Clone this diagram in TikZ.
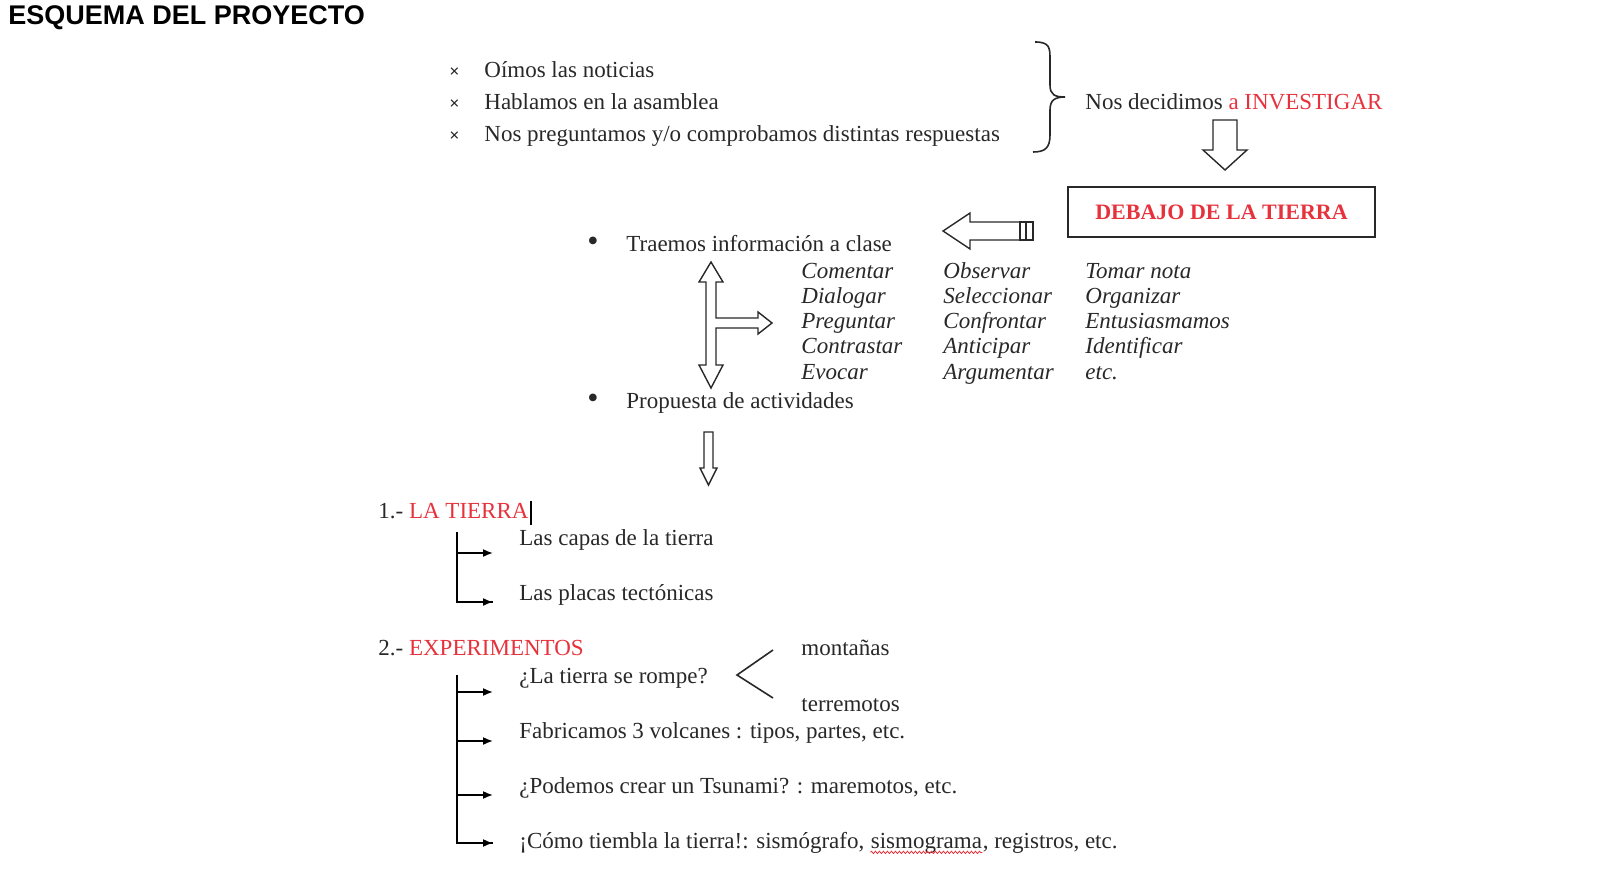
\documentclass[tikz,border=0pt]{standalone}
\usepackage{fontspec}
\setmainfont{Liberation Serif}
\setsansfont{Liberation Sans}
\usetikzlibrary{decorations.pathmorphing,arrows.meta}
\definecolor{rd}{RGB}{230,50,60}
\definecolor{tx}{RGB}{40,40,40}
\begin{document}
\begin{tikzpicture}[x=0.5pt,y=-0.5pt,
  t/.style={anchor=west,inner sep=0pt,text height=8pt,text depth=2.6pt,text=tx,font=\fontsize{11.5}{13}\selectfont},
  it/.style={t,font=\fontsize{11.5}{13}\selectfont\itshape},
  hol/.style={draw=tx,line width=0.7pt,fill=white},
  ln/.style={draw=black,line width=0.8pt},
  arr/.style={ln,-{Latex[length=5pt,width=4pt]}}]
\useasboundingbox (0,0) rectangle (1600,893);
\node[anchor=west,inner sep=0pt,font=\sffamily\bfseries\fontsize{13.5}{15}\selectfont] (title) at (8,18) {ESQUEMA DEL PROYECTO};
% top list
\foreach \y/\s/\n in {72/{Oímos las noticias}/a,104/{Hablamos en la asamblea}/b,136/{Nos preguntamos y/o comprobamos distintas respuestas}/c}{
  \node[t,font=\bfseries\fontsize{9}{9}\selectfont] (x\n) at (449,\y) {×};
  \node[t] (l\n) at (484,\y) {\s};}
\draw[tx,line width=0.8pt] (1035,42) .. controls (1050,42) and (1050,48) .. (1050,60) -- (1050,85) .. controls (1050,95) and (1055,97) .. (1065,97)
  .. controls (1055,97) and (1050,100) .. (1050,110) -- (1050,135) .. controls (1050,148) and (1045,152) .. (1033,152);
\node[t] (inv) at (1085,104) {Nos decidimos \textcolor{rd}{a INVESTIGAR}};
\draw[hol] (1213,120) -- (1237,120) -- (1237,150) -- (1247,150) -- (1225,170) -- (1203,150) -- (1213,150) -- cycle;
\node[draw=tx,line width=0.9pt,minimum width=153.5pt,minimum height=25pt,inner sep=0pt,text=rd,font=\bfseries\fontsize{11}{13}\selectfont] (deb) at (1221.5,212) {DEBAJO DE LA TIERRA};
\draw[hol] (943,231) -- (970,213) -- (970,222) -- (1020,222) -- (1020,240) -- (970,240) -- (970,249) -- cycle;
\draw[hol] (1020,222) rectangle (1026,240);
\draw[hol] (1026,222) rectangle (1033,240);
\node[t,font=\fontsize{16}{16}\selectfont] (b1) at (587,246) {•};
\node[t] (trae) at (626,246) {Traemos información a clase};
\draw[hol] (711,262) -- (723,282) -- (716,282) -- (716,318) -- (758,318) -- (758,312) -- (772,323) -- (758,334) -- (758,328) -- (716,328) -- (716,365) -- (723,365) -- (711,388) -- (699,365) -- (706,365) -- (706,282) -- (699,282) -- cycle;
\foreach \y/\a/\b/\c [count=\i] in {273/Comentar/Observar/Tomar nota,298/Dialogar/Seleccionar/Organizar,323/Preguntar/Confrontar/Entusiasmamos,348/Contrastar/Anticipar/Identificar,374/Evocar/Argumentar/etc.}{
  \node[it] (ca\i) at (801,\y) {\a};
  \node[it] (cb\i) at (943,\y) {\b};
  \node[it] (cc\i) at (1085,\y) {\c};}
\node[t,font=\fontsize{16}{16}\selectfont] (b2) at (587,403) {•};
\node[t] (prop) at (626,403) {Propuesta de actividades};
\draw[hol] (704,432) -- (713,432) -- (713,468) -- (717,468) -- (708.5,485) -- (700,468) -- (704,468) -- cycle;
% section 1
\node[t] (s1) at (378,513) {1.- \textcolor{rd}{LA TIERRA}};
\draw[line width=1pt] (s1.east)++(2,-12) -- ++(0,24);
\node[t] (s1a) at (519,540) {Las capas de la tierra};
\node[t] (s1b) at (519,595) {Las placas tectónicas};
\coordinate (v1) at (457,532);
\draw[ln] (v1) |- (493,602) coordinate (e1b);
\draw[arr] (457,553) -- (493,553) coordinate (e1a);
\draw[arr] (470,602) -- (e1b);
% section 2
\node[t] (s2) at (378,650) {2.- \textcolor{rd}{EXPERIMENTOS}};
\node[t] (q1) at (519,678) {¿La tierra se rompe?};
\node[t] (mo) at (801,650) {montañas};
\node[t] (te) at (801,706) {terremotos};
\draw[tx,line width=0.8pt] (773,650) -- (737,675) -- (773,698);
\node[t] (q2) at (519,733) {Fabricamos 3 volcanes : tipos, partes, etc.};
\node[t] (q3) at (519,788) {¿Podemos crear un Tsunami? : maremotos, etc.};
\node[t] (q4) at (519,843) {¡Cómo tiembla la tierra!: sismógrafo, \tikz[baseline]{\node[inner sep=0pt,anchor=base] (sg) {sismograma};\draw[rd,line width=0.4pt,decorate,decoration={zigzag,amplitude=0.6pt,segment length=2pt}] ([yshift=-2pt]sg.base west) -- ([yshift=-2pt]sg.base east);}, registros, etc.};
\coordinate (v2) at (457,675);
\draw[ln] (v2) |- (493,843);
\foreach \y in {692,741,795,843}{\draw[arr] (457,\y) -- (493,\y);}
\end{tikzpicture}
\end{document}
